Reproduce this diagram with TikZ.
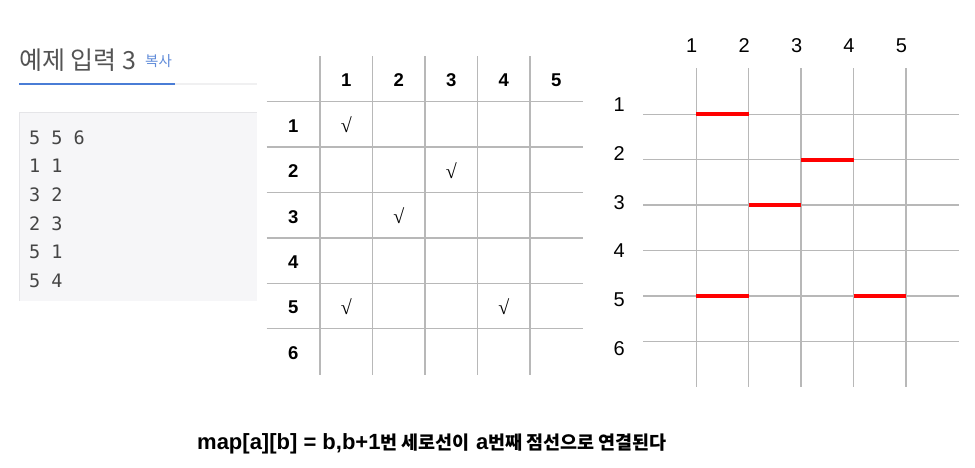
\documentclass[tikz,border=0pt]{standalone}
\usepackage{fontspec}
\setmainfont{Liberation Sans}
\newfontfamily\krfont{Noto Sans CJK KR}
\newfontfamily\codefont{DejaVu Sans Mono}
\newfontfamily\checkfont{Liberation Serif}
\usepackage{tikz}
\usepackage{color}
\definecolor{gridgray}{rgb}{0.72, 0.72, 0.72}
\definecolor{boxgray}{rgb}{0.965, 0.965, 0.973}
\definecolor{boxedge}{rgb}{0.9, 0.9, 0.91}
\definecolor{tabblue}{rgb}{0.29, 0.49, 0.84}
\definecolor{linkblue}{rgb}{0.38, 0.55, 0.85}
\definecolor{titlegray}{rgb}{0.33, 0.33, 0.33}
\definecolor{codegray}{rgb}{0.27, 0.27, 0.27}
\newcommand{\kortext}[1]{{\krfont\fontsize{18.5}{18.5}\selectfont\bfseries #1}}

\begin{document}
\begin{tikzpicture}[x=1pt, y=-1pt, every node/.style={inner sep=0pt},
		gridline/.style={color=gridgray, line width=1.3pt},
		headlabel/.style={font=\fontsize{18.5}{18.5}\selectfont\bfseries},
		sidelabel/.style={font=\fontsize{20}{20}\selectfont},
		checkmark/.style={font=\checkfont\fontsize{20}{20}\selectfont},
		codeline/.style={anchor=west, text=codegray, font=\codefont\fontsize{18.5}{18.5}\selectfont},
		rung/.style={color=red, line width=4pt}]
			\useasboundingbox (0,0) rectangle (975,467);
			\node[anchor=west, text=titlegray, font=\krfont\fontsize{25}{25}\selectfont] (title) at (19,60) {예제 입력 3};
			\node[anchor=west, text=linkblue, font=\krfont\fontsize{14.5}{14.5}\selectfont] (copy) at (145,61) {복사};
			\draw[color=boxedge!60, line width=2pt] (175,84) -- (257,84);
			\draw[color=tabblue, line width=2.5pt] (19,84) -- (175,84);
			\fill[color=boxgray] (19,111.7) rectangle (257,300.7);
			\draw[color=boxedge] (19.5,300.7) -- (19.5,111.7) -- (257,111.7);
			\foreach \txt [count=\i] in {5 5 6, 1 1, 3 2, 2 3, 5 1, 5 4}
				\node[codeline] (input\i) at (29,108.6+28.7*\i) {\txt};
			\foreach \c in {0,...,4}
				\draw[gridline] (320+52.5*\c,56) -- (320+52.5*\c,375);
			\foreach \r in {0,...,5}
				\draw[gridline] (266.7,101.7+45.4*\r) -- (583,101.7+45.4*\r);
			\foreach \c in {1,...,5}
				\node[headlabel] (col\c) at (293.75+52.5*\c,80) {\c};
			\foreach \r in {1,...,6}
				\node[headlabel] (row\r) at (293.3,80.7+45.4*\r) {\r};
			\foreach \c/\r in {1/1, 3/2, 2/3, 1/5, 4/5}
				\node[checkmark] (check\c\r) at (293.75+52.5*\c,79.5+45.4*\r) {√};
			\foreach \c in {0,...,4}
				\draw[gridline] (696.3+52.4*\c,68.3) -- (696.3+52.4*\c,387.3);
			\foreach \r in {0,...,5}
				\draw[gridline] (643,114.3+45.4*\r) -- (959,114.3+45.4*\r);
			\foreach \c in {1,...,5}
				\node[sidelabel] (line\c) at (639.4+52.4*\c,46) {\c};
			\foreach \r in {1,...,6}
				\node[sidelabel] (dot\r) at (619.3,56.35+48.65*\r) {\r};
			\foreach \a/\b in {1/1, 2/3, 3/2, 5/1, 5/4}
				\draw[rung] (643.9+52.4*\b,68.9+45.4*\a) -- (696.3+52.4*\b,68.9+45.4*\a);
			\node[anchor=base west, font=\fontsize{22}{22}\selectfont\bfseries] (caption) at (197,449)
				{map[a][b] = b,b+1\kortext{번 세로선이} a\kortext{번째 점선으로 연결된다}};
		\end{tikzpicture}
\end{document}
